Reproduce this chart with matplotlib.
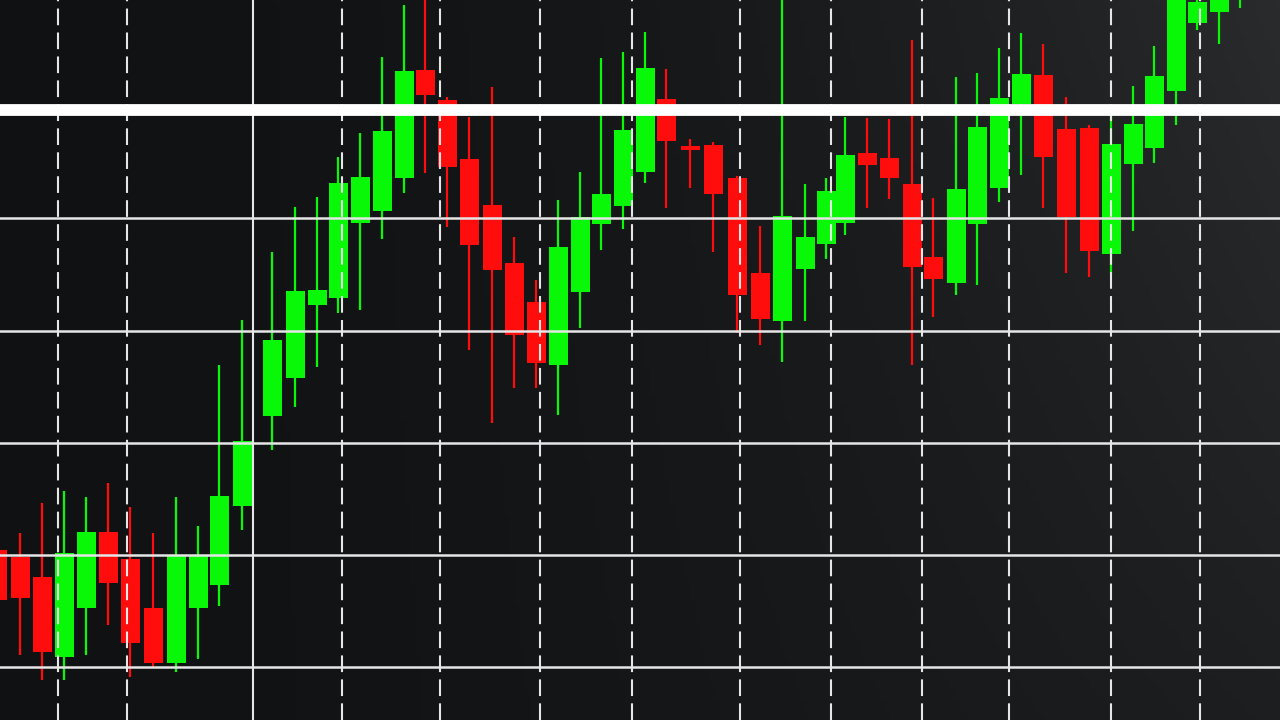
import numpy as np
import matplotlib
matplotlib.use('Agg')
import matplotlib.pyplot as plt
from matplotlib.patches import Rectangle

# candle positions (time axis) and OHLC prices
t = [-3, 20, 42, 64, 86, 108, 130, 153, 176, 198, 219, 242, 272, 295, 317, 338, 360, 382, 404, 425,
     447, 469, 492, 514, 536, 558, 580, 601, 623, 645, 666, 690, 713, 737, 760, 782, 805, 826, 845, 867,
     889, 912, 933, 956, 977, 999, 1021, 1043, 1066, 1089, 1111, 1133, 1154, 1176, 1197, 1219, 1240]
opens = [170, 163, 143, 63, 112, 188, 161, 112, 57, 112, 135, 214, 304, 342, 415, 422, 497, 509, 542, 650,
         620, 561, 515, 457, 418, 355, 428, 496, 514, 548, 621, 574, 575, 542, 447, 399, 451, 476, 497, 567,
         562, 536, 463, 437, 496, 532, 616, 645, 591, 592, 466, 556, 572, 629, 697, 708, 725]
highs = [197, 187, 217, 229, 223, 237, 213, 187, 223, 194, 355, 400, 468, 513, 523, 563, 587, 663, 715, 730,
         623, 603, 633, 483, 440, 520, 548, 662, 668, 688, 651, 581, 578, 544, 494, 730, 536, 542, 603, 602,
         601, 680, 522, 643, 647, 672, 687, 676, 623, 595, 615, 634, 674, 760, 730, 730, 750]
lows = [80, 65, 40, 40, 65, 95, 43, 53, 48, 61, 114, 190, 270, 313, 353, 407, 410, 481, 527, 547,
        493, 370, 297, 332, 332, 305, 392, 470, 491, 537, 512, 532, 468, 387, 375, 358, 399, 461, 485, 512,
        521, 355, 403, 425, 435, 518, 545, 512, 447, 443, 447, 489, 557, 595, 690, 676, 712]
closes = [120, 122, 68, 167, 188, 137, 77, 57, 164, 165, 224, 279, 380, 429, 430, 537, 543, 589, 649, 625,
          553, 475, 450, 385, 357, 473, 503, 526, 590, 652, 579, 570, 526, 425, 401, 504, 483, 529, 565, 555,
          542, 453, 441, 531, 593, 622, 646, 563, 503, 469, 576, 596, 644, 730, 718, 725, 740]

level_lines = [502, 389, 277, 165, 53]
key_level = 610
dashed_times = [58, 127, 342, 440, 540, 632, 740, 831, 922, 1009, 1111, 1200]
solid_times = [253]

up_color = '#08f808'
down_color = '#ff0d0d'

fig = plt.figure(figsize=(12.8, 7.2), dpi=100)
ax = fig.add_axes([0, 0, 1, 1])
ax.set_xlim(0, 1280)
ax.set_ylim(0, 720)
ax.axis('off')

# dark background, a bit lighter towards the right and the top right
gx = np.linspace(0, 1, 256)
gy = np.linspace(0, 1, 144)
X, Y = np.meshgrid(gx, gy)
shade = 0.065 + 0.05 * X ** 1.5 + 0.05 * (X ** 3) * Y
bg = np.dstack([shade, shade + 0.004, shade + 0.01])
ax.imshow(bg, extent=[0, 1280, 0, 720], origin='lower', aspect='auto', zorder=0)

width = 19
for x, o, h, l, c in zip(t, opens, highs, lows, closes):
    col = up_color if c >= o else down_color
    ax.plot([x, x], [l, h], color=col, lw=1.6, zorder=2, solid_capstyle='butt')
    ax.add_patch(Rectangle((x - width / 2, min(o, c)), width, max(abs(c - o), 2),
                           facecolor=col, edgecolor='none', zorder=3))

for lv in level_lines:
    ax.axhline(lv, color='#e6e6e6', lw=1.8, zorder=4)
for tx in dashed_times:
    ax.axvline(tx, color='#e6e6e6', lw=1.5, ls=(0, (8, 3.5)), zorder=4)
for tx in solid_times:
    ax.axvline(tx, color='#e6e6e6', lw=1.5, zorder=4)
ax.axhline(key_level, color='white', lw=8.5, zorder=5)

fig.savefig('out.png', dpi=100)
